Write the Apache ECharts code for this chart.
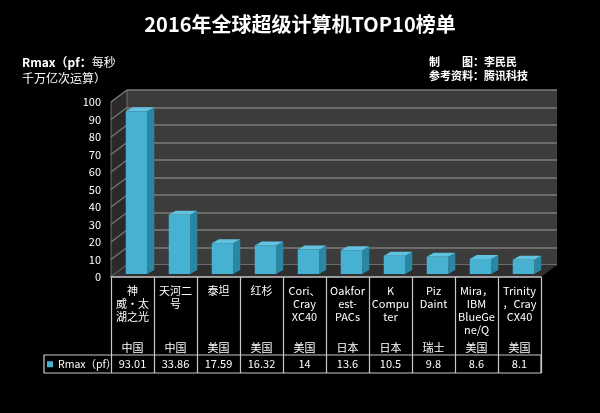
<!DOCTYPE html>
<html>
<head>
<meta charset="utf-8">
<script src="https://cdn.jsdelivr.net/npm/echarts@6/dist/echarts.min.js"></script>
<style>
  html, body { margin: 0; padding: 0; background: #000; }
  #chart { width: 600px; height: 413px; }
</style>
</head>
<body>
<div id="chart"></div>
<script>
// 超级计算机名称（按图中换行）
const names = [
  '神\n威·太\n湖之光', '天河二\n号', '泰坦', '红杉', 'Cori、\nCray\nXC40',
  'Oakfor\nest-\nPACs', 'K\nCompu\nter', 'Piz\nDaint', 'Mira，\nIBM\nBlueGe\nne/Q', 'Trinity\n，Cray\nCX40'
]
const countries = ['中国', '中国', '美国', '美国', '美国', '日本', '日本', '瑞士', '美国', '美国']
const rmax = [93.01, 33.86, 17.59, 16.32, 14, 13.6, 10.5, 9.8, 8.6, 8.1]
const yTicks = { min: 0, max: 100, interval: 10 }

// 立体效果的几何参数
const FRONT = { left: 111, top: 102, width: 430, height: 175 }
const DEPTH = { dx: 16, dy: -12 }
const BAR = { ox: 4, oy: -3, dx: 7, dy: -4 }
const FONT = '"Noto Sans CJK SC", "Noto Sans", sans-serif'

const chart = echarts.init(document.getElementById('chart'))

function buildWallGraphics() {
  const l = FRONT.left, t = FRONT.top, r = FRONT.left + FRONT.width, b = FRONT.top + FRONT.height
  const items = []
  // 左侧墙
  items.push({
    type: 'polygon', silent: true, z: 0,
    shape: { points: [[l, t], [l + DEPTH.dx, t + DEPTH.dy], [l + DEPTH.dx, b + DEPTH.dy], [l, b]] },
    style: { fill: '#2a2a2a', stroke: '#6e6e6e', lineWidth: 1 }
  })
  // 左侧墙的斜线
  const steps = (yTicks.max - yTicks.min) / yTicks.interval
  for (let k = 0; k <= steps; k++) {
    const y = b - FRONT.height * k / steps
    items.push({
      type: 'line', silent: true, z: 1,
      shape: { x1: l, y1: y, x2: l + DEPTH.dx, y2: y + DEPTH.dy },
      style: { stroke: '#7a7a7a', lineWidth: 1.2 }
    })
  }
  // 底面
  items.push({
    type: 'polygon', silent: true, z: 1,
    shape: { points: [[l, b], [r, b], [r + DEPTH.dx, b + DEPTH.dy], [l + DEPTH.dx, b + DEPTH.dy]] },
    style: { fill: '#2f2f2f' }
  })
  // 数值行边框
  items.push({
    type: 'rect', silent: true, z: 5,
    shape: { x: 44, y: b + 78, width: r - 44, height: 18 },
    style: { fill: null, stroke: '#c8c8c8', lineWidth: 1.2 }
  })
  return items
}

function renderBar(params, api) {
  const idx = api.value(0)
  const base = api.coord([idx, 0])
  const top = api.coord([idx, api.value(1)])
  const w = api.size([1, 0])[0] * 0.5
  const x0 = top[0] - w / 2 + BAR.ox
  const x1 = x0 + w
  const y0 = base[1] + BAR.oy
  const y1 = top[1] + BAR.oy
  return {
    type: 'group',
    children: [
      {
        type: 'polygon',
        shape: { points: [[x1, y1], [x1 + BAR.dx, y1 + BAR.dy], [x1 + BAR.dx, y0 + BAR.dy], [x1, y0]] },
        style: { fill: '#2a87a4' }
      },
      {
        type: 'polygon',
        shape: { points: [[x0, y1], [x0 + BAR.dx, y1 + BAR.dy], [x1 + BAR.dx, y1 + BAR.dy], [x1, y1]] },
        style: { fill: '#62c3e0' }
      },
      {
        type: 'rect',
        shape: { x: x0, y: y1, width: w, height: y0 - y1 },
        style: { fill: '#47b1d2' }
      }
    ]
  }
}

const option = {
  backgroundColor: '#000',
  textStyle: { fontFamily: FONT },
  animation: false,
  title: [
    {
      text: '2016年全球超级计算机TOP10榜单',
      left: 'center', top: 9,
      textStyle: { color: '#fff', fontSize: 20, fontWeight: 'bold', fontFamily: FONT }
    },
    {
      text: '{b|Rmax（pf：}每秒\n千万亿次运算）',
      left: 17, top: 49,
      textStyle: {
        color: '#fff', fontSize: 12, lineHeight: 16, fontWeight: 'normal', fontFamily: FONT,
        rich: { b: { fontWeight: 'bold', fontSize: 12, color: '#fff', fontFamily: FONT } }
      }
    },
    {
      text: '制　　图：李民民\n参考资料：腾讯科技',
      left: 424, top: 50,
      textStyle: { color: '#fff', fontSize: 11, lineHeight: 14, fontWeight: 'bold', fontFamily: FONT }
    }
  ],
  legend: {
    data: ['Rmax（pf）'],
    left: 47, top: FRONT.top + FRONT.height + 82,
    icon: 'rect', itemWidth: 6, itemHeight: 6, itemGap: 4,
    textStyle: { color: '#fff', fontSize: 10.5, fontFamily: FONT },
    padding: 0
  },
  grid: [
    {
      left: FRONT.left + DEPTH.dx, top: FRONT.top + DEPTH.dy,
      width: FRONT.width, height: FRONT.height,
      show: true, backgroundColor: '#3c3c3c', borderWidth: 0
    },
    {
      left: FRONT.left, top: FRONT.top,
      width: FRONT.width, height: FRONT.height
    }
  ],
  xAxis: [
    { type: 'category', gridIndex: 0, data: names, show: false },
    {
      type: 'category', gridIndex: 1, data: names,
      axisLine: { lineStyle: { color: '#c8c8c8', width: 1.5 } },
      axisTick: { show: true, length: 96, lineStyle: { color: '#c8c8c8', width: 1.2 } },
      axisLabel: {
        interval: 0, margin: 7, color: '#fff',
        formatter: (val, i) => {
          const lines = val.split('\n')
          while (lines.length < 4) lines.push(' ')
          return lines.map(s => '{n|' + s + '}').join('\n') + '\n{c|' + countries[i] + '}'
        },
        rich: {
          n: { fontSize: 11, lineHeight: 13, color: '#fff', fontFamily: FONT },
          c: { fontSize: 11, lineHeight: 23, color: '#fff', fontFamily: FONT }
        }
      },
      z: 6
    },
    {
      type: 'category', gridIndex: 1, position: 'bottom', offset: 78,
      data: rmax.map(String),
      axisLine: { show: false }, axisTick: { show: false },
      axisLabel: { interval: 0, margin: 3, color: '#fff', fontSize: 11, fontFamily: FONT }
    }
  ],
  yAxis: [
    {
      type: 'value', gridIndex: 0, min: yTicks.min, max: yTicks.max, interval: yTicks.interval,
      axisLabel: { show: false }, axisLine: { show: false }, axisTick: { show: false },
      splitLine: { lineStyle: { color: '#7c7c7c', width: 1.5 } }
    },
    {
      type: 'value', gridIndex: 1, min: yTicks.min, max: yTicks.max, interval: yTicks.interval,
      axisLabel: { color: '#fff', fontSize: 11, margin: 10, fontFamily: FONT },
      axisLine: { show: false }, axisTick: { show: false }, splitLine: { show: false }
    }
  ],
  graphic: buildWallGraphics(),
  series: [
    {
      name: 'Rmax（pf）',
      type: 'custom',
      xAxisIndex: 1, yAxisIndex: 1,
      itemStyle: { color: '#4ab3d3' },
      renderItem: renderBar,
      encode: { x: 0, y: 1 },
      data: rmax.map((v, i) => [i, v]),
      z: 3
    }
  ]
}

chart.setOption(option)
</script>
</body>
</html>
